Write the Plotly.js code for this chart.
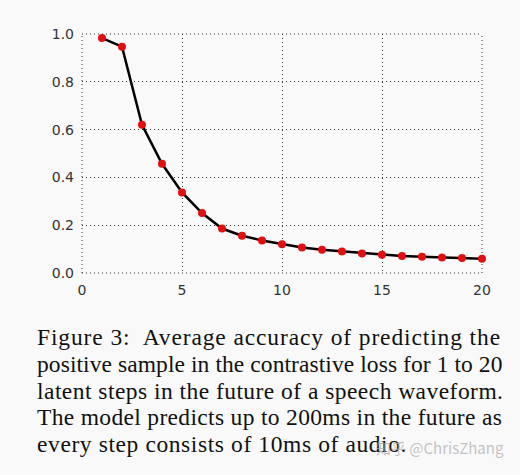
<!DOCTYPE html>
<html>
<head>
<meta charset="utf-8">
<script src="https://cdn.plot.ly/plotly-3.0.1.min.js"></script>
<style>
  html, body { margin: 0; padding: 0; background: #f9f9f9; }
  #chart { width: 520px; height: 475px; }
</style>
</head>
<body>
<div id="chart"></div>
<script>
// latent steps predicted into the future
const steps = [1, 2, 3, 4, 5, 6, 7, 8, 9, 10, 11, 12, 13, 14, 15, 16, 17, 18, 19, 20];
// average accuracy of predicting the positive sample
const accuracy = [0.983, 0.947, 0.62, 0.457, 0.337, 0.251, 0.186, 0.156, 0.136, 0.12,
                  0.107, 0.097, 0.09, 0.082, 0.076, 0.071, 0.068, 0.065, 0.063, 0.06];

const xTicks = [0, 5, 10, 15, 20];
const yTicks = [0, 0.2, 0.4, 0.6, 0.8, 1.0];

const caption = [
  "Figure 3:  Average accuracy of predicting the",
  "positive sample in the contrastive loss for 1 to 20",
  "latent steps in the future of a speech waveform.",
  "The model predicts up to 200ms in the future as",
  "every step consists of 10ms of audio."
];
// letter spacing per caption line, so the justified lines fill the width
const captionSpacing = [0.88, 0.08, 0.46, 0.33, 0.6];
const watermark = "知乎 @ChrisZhang";

// page geometry (pixels)
const W = 520, H = 475;
const mar = { l: 82, r: 38, t: 34, b: 202 };
const plotH = H - mar.t - mar.b;
const plotW = W - mar.l - mar.r;
function paperX(px) { return (px - mar.l) / plotW; }
function paperY(py) { return (H - mar.b - py) / plotH; }

let trace = {
  x: steps, y: accuracy, mode: 'lines+markers',
  line: { color: '#000000', width: 2.5 },
  marker: { color: '#e01010', size: 8 },
  cliponaxis: false, hoverinfo: 'skip'
};

let annotations = caption.map((t, i) => ({
  text: '<span style="letter-spacing:' + captionSpacing[i] + 'px">' + t + '</span>',
  xref: 'paper', yref: 'paper',
  x: paperX(35), y: paperY(337 + i * 26.8),
  xanchor: 'left', yanchor: 'middle', showarrow: false,
  font: { family: 'Liberation Serif', size: 23.5, color: '#111111' }
}));
annotations.push({
  text: watermark, xref: 'paper', yref: 'paper',
  x: paperX(506), y: paperY(447),
  xanchor: 'right', yanchor: 'middle', showarrow: false,
  font: { family: 'Noto Sans CJK SC', size: 15, color: 'rgba(175,175,175,0.75)' }
});

// dotted frame round the plot area, same style as the grid
const frame = [[0, 0, 0, 1], [1, 0, 1, 1], [0, 0, 1, 0], [0, 1, 1, 1]].map(s => ({
  type: 'line', xref: 'paper', yref: 'paper', x0: s[0], y0: s[1], x1: s[2], y1: s[3],
  line: { color: '#333333', width: 1, dash: '1px,3px' }, layer: 'below'
}));

let layout = {
  width: W, height: H,
  margin: mar,
  paper_bgcolor: '#f9f9f9', plot_bgcolor: '#f9f9f9',
  showlegend: false,
  font: { family: 'DejaVu Sans', size: 14, color: '#333333' },
  xaxis: {
    range: [0, 20], tickvals: xTicks, ticktext: xTicks.map(String),
    showgrid: true, gridcolor: '#333333', griddash: '1px,3px', gridwidth: 1,
    zeroline: false, showline: false, ticks: '', ticklabelstandoff: 7,
    fixedrange: true
  },
  yaxis: {
    range: [0, 1], tickvals: yTicks, ticktext: yTicks.map(v => v.toFixed(1)),
    showgrid: true, gridcolor: '#333333', griddash: '1px,3px', gridwidth: 1,
    zeroline: false, showline: false, ticks: '', ticklabelstandoff: 7,
    fixedrange: true
  },
  shapes: frame,
  annotations: annotations
};

Plotly.newPlot('chart', [trace], layout, { staticPlot: true });
</script>
</body>
</html>
